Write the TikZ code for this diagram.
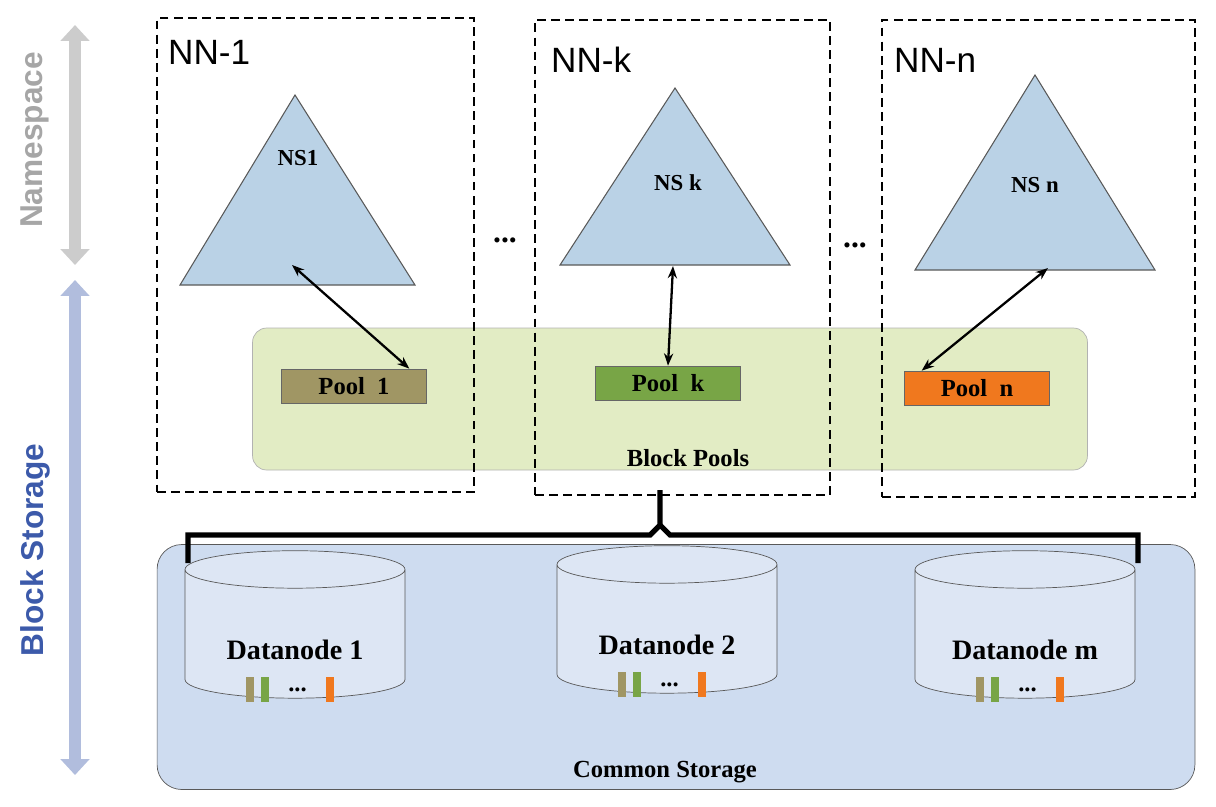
\documentclass[tikz,border=0pt]{standalone}
\usepackage{fontspec}
\setmainfont{Liberation Serif}
\newfontfamily\sansf{Liberation Sans}
\usetikzlibrary{shapes.geometric, arrows.meta, positioning}

\definecolor{triblue}{RGB}{186,210,230}
\definecolor{poolbg}{RGB}{226,236,196}
\definecolor{storebg}{RGB}{206,220,240}
\definecolor{khaki}{RGB}{160,150,100}
\definecolor{poolgreen}{RGB}{120,165,70}
\definecolor{poolorange}{RGB}{240,120,30}
\definecolor{axisblue}{RGB}{60,90,170}

\begin{document}
\begin{tikzpicture}[x=0.02cm, y=-0.02cm,
    nnbox/.style={draw=black, dash pattern=on 5pt off 3pt, line width=1.6pt},
    nnlabel/.style={font=\sansf\fontsize{20}{20}\selectfont, anchor=west},
    tri/.style={draw=gray!70!black, fill=triblue, line width=0.6pt},
    pool/.style={rectangle, draw=black!60, fill=#1, minimum width=2.9cm, minimum height=0.68cm, font=\bfseries\fontsize{14}{14}\selectfont},
    dnode/.style={cylinder, shape border rotate=90, aspect=3.2, draw=gray!70!black, fill=storebg!70!white, minimum width=4.4cm, minimum height=2.95cm, font=\bfseries\fontsize{16}{16}\selectfont},
    bar/.style={minimum width=0.16cm, minimum height=0.5cm, inner sep=0pt, fill=#1},
    arrow/.style={line width=1.3pt, {Stealth[length=7pt]}-{Stealth[length=7pt]}}
    ]
    \useasboundingbox (0,0) rectangle (1216,806);

    % Axes
    \draw [line width=7pt, gray!40, {Triangle[length=9pt,width=16pt]}-{Triangle[length=9pt,width=16pt]}] (75,25) -- (75,265);
    \node (ns_axis) [rotate=90, text=gray!70, font=\sansf\bfseries\fontsize{18}{18}\selectfont] at (35,140) {Namespace};
    \draw [line width=7pt, axisblue!40, {Triangle[length=9pt,width=16pt]}-{Triangle[length=9pt,width=16pt]}] (75,280) -- (75,775);
    \node (bs_axis) [rotate=90, text=axisblue, font=\sansf\bfseries\fontsize{18}{18}\selectfont] at (35,550) {Block Storage};

    % Block pools and common storage
    \node (pools) [draw=gray!60, fill=poolbg, rounded corners=8pt, minimum width=16.7cm, minimum height=2.84cm] at (670,399) {};
    \node (pools_lbl) [font=\bfseries\fontsize{14}{14}\selectfont] at (688,458) {Block Pools};
    \node (common) [draw=gray!70!black, fill=storebg, rounded corners=14pt, minimum width=20.76cm, minimum height=4.9cm] at (676,667) {};
    \node (common_lbl) [font=\bfseries\fontsize{14}{14}\selectfont] at (665,772) {Common Storage};

    % Namenode boxes
    \node (nn1) [nnbox, minimum width=6.34cm, minimum height=9.48cm] at (315.5,255) {};
    \node (nnk) [nnbox, minimum width=5.9cm, minimum height=9.5cm] at (682.5,257.5) {};
    \node (nnn) [nnbox, minimum width=6.26cm, minimum height=9.54cm] at (1038.5,258.5) {};
    \node [nnlabel] at (162,52) {NN-1};
    \node [nnlabel] at (545,60) {NN-k};
    \node [nnlabel] at (888,60) {NN-n};

    % Namespaces
    \draw [tri] (295,95) -- (415,285) -- (180,285) -- cycle;
    \draw [tri] (675,88) -- (790,265) -- (560,265) -- cycle;
    \draw [tri] (1035,75) -- (1155,270) -- (915,270) -- cycle;
    \node (ns1) [font=\bfseries\fontsize{13}{13}\selectfont] at (298,158) {NS1};
    \node (nsk) [font=\bfseries\fontsize{13}{13}\selectfont] at (678,183) {NS k};
    \node (nsn) [font=\bfseries\fontsize{13}{13}\selectfont] at (1035,185) {NS n};
    \node (dots1) [font=\bfseries\fontsize{18}{18}\selectfont] at (505,240) {...};
    \node (dots2) [font=\bfseries\fontsize{18}{18}\selectfont] at (855,245) {...};
    \coordinate (ns1_b) at (292,265);
    \coordinate (nsk_b) at (673,266);
    \coordinate (nsn_b) at (1048,268);

    % Pools
    \node (pool1) [pool=khaki] at (354,386) {Pool\ \ 1};
    \node (poolk) [pool=poolgreen] at (668,383) {Pool\ \ k};
    \node (pooln) [pool=poolorange] at (977,388) {Pool\ \ n};
    \draw [arrow] (ns1_b) -- ([xshift=-0.35cm]pool1.north east);
    \draw [arrow] (nsk_b) -- (poolk.north);
    \draw [arrow] (nsn_b) -- ([xshift=0.35cm]pooln.north west);

    % Bracket
    \coordinate (br_top) at (660,490);
    \draw [line width=3pt] (188,563) -- (188,535) -- (650,535) -- (660,525) -- (br_top);
    \draw [line width=3pt] (1138,563) -- (1138,535) -- (670,535) -- (660,525);

    % Datanodes
    \node (dn1) [dnode] at (295,637) {};
    \node (dn2) [dnode] at (667,632) {};
    \node (dnm) [dnode] at (1025,637) {};
    \foreach \d/\t in {dn1/Datanode 1, dn2/Datanode 2, dnm/Datanode m} {
        \node [font=\bfseries\fontsize{16}{16}\selectfont] at ([yshift=-0.25cm]\d.center) {\t};
        \node [bar=khaki] at ([xshift=-0.9cm, yshift=-1.05cm]\d.center) {};
        \node [bar=poolgreen] at ([xshift=-0.6cm, yshift=-1.05cm]\d.center) {};
        \node [font=\bfseries\fontsize{14}{14}\selectfont] at ([xshift=0.05cm, yshift=-1.05cm]\d.center) {...};
        \node [bar=poolorange] at ([xshift=0.7cm, yshift=-1.05cm]\d.center) {};
    }
\end{tikzpicture}
\end{document}
